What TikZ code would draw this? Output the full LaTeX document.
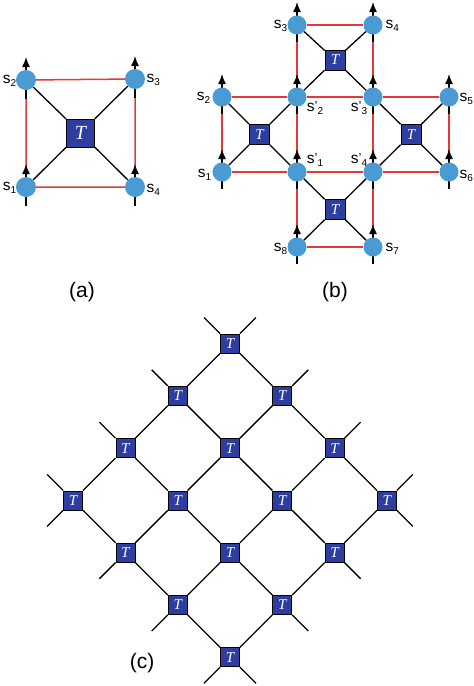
\documentclass[tikz,border=0pt]{standalone}
\usepackage{fontspec}
\setmainfont{Liberation Sans}
\newfontfamily\tserif{Liberation Serif}
\usepackage{tikz}
\usetikzlibrary{arrows.meta}
\definecolor{spinblue}{HTML}{4A9AD4}
\definecolor{tensblue}{HTML}{2E3DA0}
\definecolor{linkred}{HTML}{E53935}
\pgfdeclarelayer{back}
\pgfsetlayers{back,main}
\newcommand{\slab}[1]{{\fontsize{15.5}{15.5}\selectfont s}\raisebox{-3pt}{\fontsize{10}{10}\selectfont #1}}
\newcommand{\slabp}[1]{{\fontsize{15.5}{15.5}\selectfont s}\raisebox{1.5pt}{\fontsize{13}{13}\selectfont\symbol{39}}\raisebox{-3pt}{\fontsize{10}{10}\selectfont #1}}
\newcommand{\spinarrow}[3]{\draw[spinup] ([yshift=-#2pt]#1.center) -- ([yshift=#3pt]#1.center);}
\tikzset{
  spin/.style={circle, fill=spinblue, minimum size=19pt, inner sep=0pt},
  tens/.style={draw, fill=tensblue, minimum size=20pt, inner sep=0pt, line width=0.8pt,
    text=white, font=\tserif\itshape\fontsize{15}{15}\selectfont},
  bond/.style={line width=1.3pt},
  link/.style={draw=linkred, line width=1.5pt},
  spinup/.style={-{Latex[length=10pt,width=8pt]}, line width=1.4pt},
  lab/.style={inner sep=0.5pt},
  panel/.style={font=\fontsize{21}{21}\selectfont}
}

\begin{document}
\begin{tikzpicture}[x=1pt,y=-1pt]
    \useasboundingbox (0,0) rectangle (474,686);
    % (a) one plaquette
    \node[spin,minimum size=20pt] (a1) at (26,187) {};
    \node[spin,minimum size=20pt] (a2) at (26,80) {};
    \node[spin,minimum size=20pt] (a3) at (135,79) {};
    \node[spin,minimum size=20pt] (a4) at (135,187) {};
    \node[tens,minimum size=28pt,font=\tserif\itshape\fontsize{20}{20}\selectfont] (ta) at (80.5,133) {T};
    \node[lab,anchor=east] (la1) at (17,188) {\slab{1}};
    \node[lab,anchor=east] (la2) at (17,81) {\slab{2}};
    \node[lab,anchor=west] (la3) at (146,80) {\slab{3}};
    \node[lab,anchor=west] (la4) at (146,190) {\slab{4}};
    \begin{pgfonlayer}{back}
        \draw[link] (a1) -- (a2) -- (a3) -- (a4) -- (a1);
        \foreach \s in {a1,a2,a3,a4} {\spinarrow{\s}{19}{23}}
        \foreach \s in {a1,a2,a3,a4} \draw[bond] (ta) -- (\s);
    \end{pgfonlayer}
    \node[panel] (pa) at (82,292) {(a)};

    % (b) four plaquettes
    \node[spin] (b3) at (297,25) {};
    \node[spin] (b4) at (373,25) {};
    \node[spin] (b2) at (222,97) {};
    \node[spin] (b2p) at (297,97) {};
    \node[spin] (b3p) at (373,97) {};
    \node[spin] (b5) at (449,97) {};
    \node[spin] (b1) at (222,172) {};
    \node[spin] (b1p) at (297,172) {};
    \node[spin] (b4p) at (373,172) {};
    \node[spin] (b6) at (449,172) {};
    \node[spin] (b8) at (297,247) {};
    \node[spin] (b7) at (373,247) {};
    \node[tens] (tu) at (335,60) {T};
    \node[tens] (tl) at (259.5,134.5) {T};
    \node[tens] (tr) at (411,134.5) {T};
    \node[tens] (td) at (335,209.5) {T};
    \node[lab,anchor=east] (lb3) at (288,26) {\slab{3}};
    \node[lab,anchor=west] (lb4) at (385,26) {\slab{4}};
    \node[lab,anchor=east] (lb2) at (211,98) {\slab{2}};
    \node[lab,anchor=west] (lb5) at (459,99) {\slab{5}};
    \node[lab,anchor=east] (lb1) at (212,175) {\slab{1}};
    \node[lab,anchor=west] (lb6) at (459,176) {\slab{6}};
    \node[lab,anchor=east] (lb8) at (288,249) {\slab{8}};
    \node[lab,anchor=west] (lb7) at (385,249) {\slab{7}};
    \node[lab] (lb2p) at (315,108) {\slabp{2}};
    \node[lab] (lb3p) at (359,108) {\slabp{3}};
    \node[lab] (lb1p) at (315,160) {\slabp{1}};
    \node[lab] (lb4p) at (359,160) {\slabp{4}};
    \begin{pgfonlayer}{back}
        \draw[link] (b3) -- (b4);
        \draw[link] (b2) -- (b2p) -- (b3p) -- (b5);
        \draw[link] (b1) -- (b1p) -- (b4p) -- (b6);
        \draw[link] (b8) -- (b7);
        \draw[link] (b2) -- (b1);
        \draw[link] (b5) -- (b6);
        \draw[link] (b3) -- (b2p) -- (b1p) -- (b8);
        \draw[link] (b4) -- (b3p) -- (b4p) -- (b7);
        \foreach \s in {b1,b2,b3,b4,b5,b6,b7,b8,b1p,b2p,b3p,b4p} {\spinarrow{\s}{17}{23}}
        \foreach \s in {b3,b4,b2p,b3p} \draw[bond] (tu) -- (\s);
        \foreach \s in {b2,b2p,b1,b1p} \draw[bond] (tl) -- (\s);
        \foreach \s in {b3p,b5,b4p,b6} \draw[bond] (tr) -- (\s);
        \foreach \s in {b1p,b4p,b8,b7} \draw[bond] (td) -- (\s);
    \end{pgfonlayer}
    \node[panel] (pb) at (335,292) {(b)};

    % (c) tensor network
    \foreach \i in {0,...,3}
        \foreach \j in {0,...,3}
            \node[tens,minimum size=19pt] (t\i\j) at ({230+52.3*(\i-\j)},{343.5+52.3*(\i+\j)}) {T};
    \begin{pgfonlayer}{back}
        \foreach \i in {0,...,2}
            \foreach \j in {0,...,3} {
                \pgfmathtruncatemacro\k{\i+1}
                \draw[bond] (t\i\j) -- (t\k\j);
                \draw[bond] (t\j\i) -- (t\j\k);
            }
        \foreach \j in {0,...,3} {
            \draw[bond] (t0\j) -- ++(-26,-26);
            \draw[bond] (t3\j) -- ++(26,26);
            \draw[bond] (t\j0) -- ++(26,-26);
            \draw[bond] (t\j3) -- ++(-26,26);
        }
    \end{pgfonlayer}
    \node[panel] (pc) at (142,663) {(c)};
\end{tikzpicture}
\end{document}
